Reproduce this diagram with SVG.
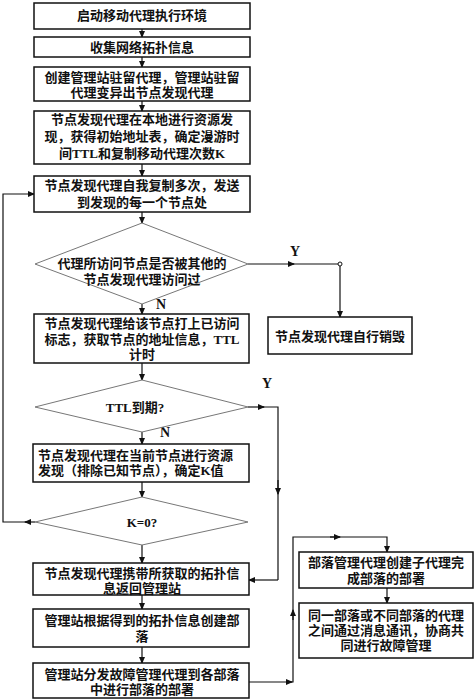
<svg xmlns="http://www.w3.org/2000/svg" width="474" height="699" viewBox="0 0 474 699">
<style>
.box{fill:#fff;stroke:#111;stroke-width:1.5}
.dia{fill:#fff;stroke:#777;stroke-width:1}
.t{font-family:"Liberation Serif","Noto Sans CJK SC","Noto Sans CJK JP",serif;font-size:13px;font-weight:bold;fill:#111;text-anchor:middle}
.tl{text-anchor:start}
.lab{font-family:"Liberation Serif",serif;font-size:14px;font-weight:bold;fill:#111;text-anchor:middle}
.c{fill:none;stroke:#111;stroke-width:1.2}
</style>
<defs>
<marker id="ah" markerWidth="7" markerHeight="6" refX="6" refY="3" orient="auto" markerUnits="userSpaceOnUse">
<path d="M0,0 L7,3 L0,6 Z" fill="#111"/>
</marker>
</defs>
<rect width="474" height="699" fill="#fff"/>
<g id="connectors">
<line class="c" x1="142" y1="29" x2="142" y2="37" marker-end="url(#ah)"/>
<line class="c" x1="142" y1="57" x2="142" y2="67" marker-end="url(#ah)"/>
<line class="c" x1="142" y1="101" x2="142" y2="111" marker-end="url(#ah)"/>
<line class="c" x1="142" y1="164" x2="142" y2="176" marker-end="url(#ah)"/>
<line class="c" x1="142" y1="212" x2="142" y2="223" marker-end="url(#ah)"/>
<line class="c" x1="248" y1="264" x2="294" y2="264" marker-end="url(#ah)"/>
<line class="c" x1="292" y1="264" x2="340" y2="264"/>
<circle cx="340" cy="264" r="2" fill="#fff" stroke="#111" stroke-width="1"/>
<line class="c" x1="340" y1="266" x2="340" y2="317" marker-end="url(#ah)"/>
<line class="c" x1="142" y1="304" x2="142" y2="314" marker-end="url(#ah)"/>
<line class="c" x1="142" y1="363" x2="142" y2="380" marker-end="url(#ah)"/>
<line class="c" x1="248" y1="407" x2="264" y2="407" marker-end="url(#ah)"/>
<polyline class="c" points="262,407 278,407 278,580"/>
<line class="c" x1="278" y1="480" x2="278" y2="494" marker-end="url(#ah)"/>
<line class="c" x1="278" y1="580" x2="249" y2="580" marker-end="url(#ah)"/>
<line class="c" x1="142" y1="432" x2="142" y2="444" marker-end="url(#ah)"/>
<line class="c" x1="142" y1="482" x2="142" y2="497" marker-end="url(#ah)"/>
<line class="c" x1="35" y1="522" x2="25" y2="522" marker-end="url(#ah)"/>
<polyline class="c" points="27,522 3,522 3,194 34,194" marker-end="url(#ah)"/>
<line class="c" x1="142" y1="545" x2="142" y2="563" marker-end="url(#ah)"/>
<line class="c" x1="142" y1="595" x2="142" y2="609" marker-end="url(#ah)"/>
<line class="c" x1="142" y1="647" x2="142" y2="663" marker-end="url(#ah)"/>
<line class="c" x1="249" y1="682" x2="292" y2="682" marker-end="url(#ah)"/>
<polyline class="c" points="290,682 293,682 293,537 387,537 387,552" marker-end="url(#ah)"/>
<line class="c" x1="293" y1="620" x2="293" y2="610" marker-end="url(#ah)"/>
<line class="c" x1="330" y1="537" x2="340" y2="537" marker-end="url(#ah)"/>
<line class="c" x1="387" y1="588" x2="387" y2="603" marker-end="url(#ah)"/>
<text class="lab" x="295" y="256">Y</text>
<text class="lab" x="161" y="309">N</text>
<text class="lab" x="267" y="388">Y</text>
<text class="lab" x="165" y="437">N</text>
</g>
<g id="n1"><rect class="box" x="34" y="3" width="216" height="26"/><text class="t" x="142" y="20">启动移动代理执行环境</text></g>
<g id="n2"><rect class="box" x="34" y="37" width="216" height="20"/><text class="t" x="142" y="52">收集网络拓扑信息</text></g>
<g id="n3"><rect class="box" x="34" y="67" width="216" height="34"/><text class="t" x="142" y="81.5"><tspan x="142">创建管理站驻留代理，管理站驻留</tspan><tspan x="142" dy="15">代理变异出节点发现代理</tspan></text></g>
<g id="n4"><rect class="box" x="34" y="111" width="216" height="53"/><text class="t" x="142" y="124"><tspan x="142">节点发现代理在本地进行资源发</tspan><tspan x="142" dy="17">现，获得初始地址表，确定漫游时</tspan><tspan x="142" dy="17">间TTL和复制移动代理次数K</tspan></text></g>
<g id="n5"><rect class="box" x="34" y="176" width="216" height="36"/><text class="t" x="142" y="190"><tspan x="142">节点发现代理自我复制多次，发送</tspan><tspan x="142" dy="17">到发现的每一个节点处</tspan></text></g>
<g id="d1"><polygon class="dia" points="142,223 248,264 142,304 35,264"/><text class="t" x="142" y="268"><tspan x="142">代理所访问节点是否被其他的</tspan><tspan x="142" dy="16">节点发现代理访问过</tspan></text></g>
<g id="n6"><rect class="box" x="34" y="314" width="215" height="49"/><text class="t" x="142" y="328"><tspan x="142">节点发现代理给该节点打上已访问</tspan><tspan x="142" dy="16">标志，获取节点的地址信息，TTL</tspan><tspan x="142" dy="15">计时</tspan></text></g>
<g id="n7"><rect class="box" x="268" y="317" width="144" height="37"/><text class="t" x="340" y="341">节点发现代理自行销毁</text></g>
<g id="d2"><polygon class="dia" points="142,380 248,407 142,432 35,407"/><text class="t" x="135" y="412">TTL到期?</text></g>
<g id="n8"><rect class="box" x="33" y="444" width="216" height="38"/><text class="t tl" x="38" y="460"><tspan x="38">节点发现代理在当前节点进行资源</tspan><tspan x="38" dy="15">发现（排除已知节点），确定K值</tspan></text></g>
<g id="d3"><polygon class="dia" points="142,497 248,522 142,545 35,522"/><text class="t" x="142" y="527">K=0?</text></g>
<g id="n9"><rect class="box" x="33" y="563" width="216" height="32"/><text class="t" x="142" y="577.5"><tspan x="142">节点发现代理携带所获取的拓扑信</tspan><tspan x="142" dy="15">息返回管理站</tspan></text></g>
<g id="n10"><rect class="box" x="33" y="609" width="216" height="38"/><text class="t" x="142" y="625"><tspan x="142">管理站根据得到的拓扑信息创建部</tspan><tspan x="142" dy="16">落</tspan></text></g>
<g id="n11"><rect class="box" x="33" y="663" width="216" height="35"/><text class="t" x="142" y="679"><tspan x="142">管理站分发故障管理代理到各部落</tspan><tspan x="142" dy="15">中进行部落的部署</tspan></text></g>
<g id="n12"><rect class="box" x="299" y="552" width="174" height="36"/><text class="t" x="386" y="567"><tspan x="386">部落管理代理创建子代理完</tspan><tspan x="386" dy="16">成部落的部署</tspan></text></g>
<g id="n13"><rect class="box" x="299" y="603" width="174" height="55"/><text class="t" x="386" y="620"><tspan x="386">同一部落或不同部落的代理</tspan><tspan x="386" dy="15">之间通过消息通讯，协商共</tspan><tspan x="386" dy="15">同进行故障管理</tspan></text></g>
</svg>
